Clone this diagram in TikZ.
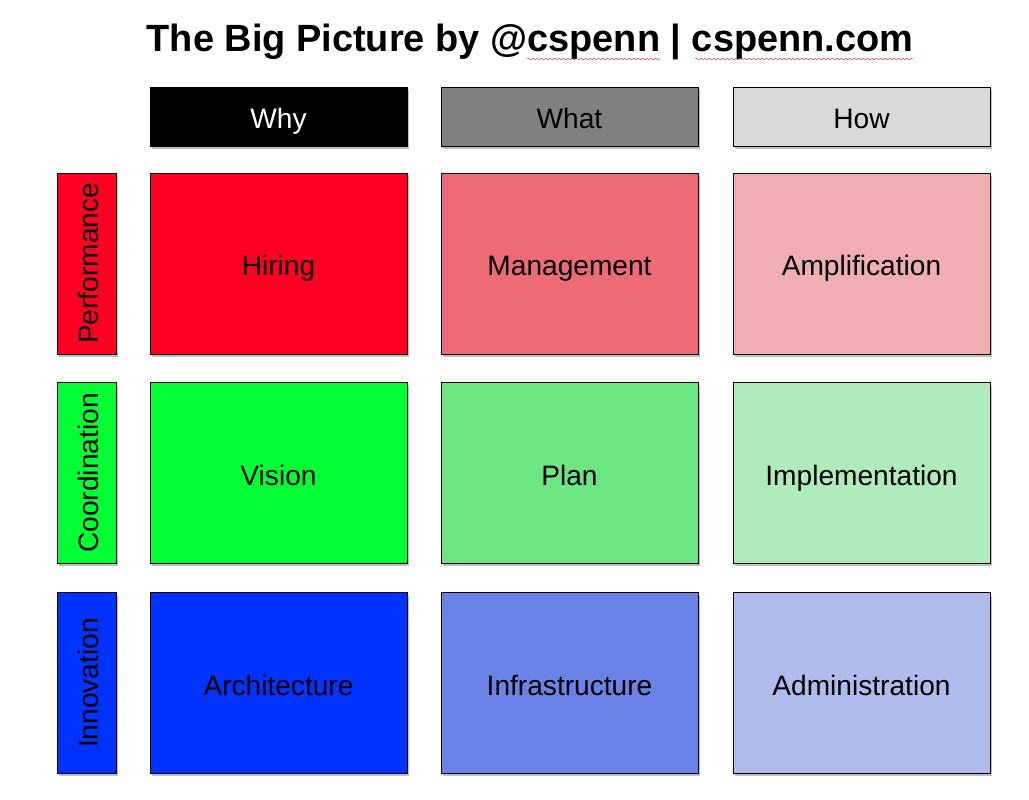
\documentclass[tikz,border=0pt]{standalone}
\usepackage{fontspec}
\setmainfont{Liberation Sans}
\usepackage{tikz}
\usetikzlibrary{shadows, positioning, decorations.pathmorphing}

\definecolor{perfA}{HTML}{FF0022}
\definecolor{perfB}{HTML}{EC6B74}
\definecolor{perfC}{HTML}{F0AEB3}
\definecolor{coordA}{HTML}{00FF33}
\definecolor{coordB}{HTML}{6BE682}
\definecolor{coordC}{HTML}{B0EBBB}
\definecolor{innoA}{HTML}{0033FF}
\definecolor{innoB}{HTML}{6B82E6}
\definecolor{innoC}{HTML}{B0BBEE}
\definecolor{midgray}{HTML}{808080}
\definecolor{lightgray}{HTML}{D9D9D9}

\begin{document}
\begin{tikzpicture}[
    x=0.02cm, y=-0.02cm,
    boxshadow/.style={drop shadow={shadow xshift=0.04cm, shadow yshift=-0.06cm, opacity=0.25, fill=black}},
    boxtext/.style={font=\fontsize{16}{19}\selectfont, text height=13.8pt, text depth=0pt},
    header/.style={rectangle, draw=black, thin, inner sep=0pt, minimum width=5.14cm, minimum height=1.18cm, boxshadow, boxtext},
    cell/.style={rectangle, draw=black, thin, inner sep=0pt, minimum width=5.14cm, minimum height=3.62cm, boxshadow, boxtext},
    rowlabel/.style={rectangle, draw=black, thin, inner sep=0pt, minimum width=1.18cm, minimum height=3.62cm, boxshadow},
    rowtext/.style={rotate=90, inner sep=0pt, boxtext},
    spell/.style={draw=red, very thin, decorate, decoration={snake, amplitude=0.4pt, segment length=2.5pt}}
]
\useasboundingbox (0,0) rectangle (1029,800);

% Title
\node[font=\fontsize{21.6}{26}\selectfont\bfseries] (title) at (530,42) {The Big Picture by @cspenn | cspenn.com};
\draw[spell] (527,59) -- (661,59);
\draw[spell] (695,59) -- (915,59);

% Column headers
\node[header, fill=black, text=white] (why) at (278.5,116.5) {Why};
\node[header, fill=midgray] (what) at (569.5,116.5) {What};
\node[header, fill=lightgray] (how) at (861.5,116.5) {How};

% Row labels (left side)
\node[rowlabel, fill=perfA] (perf) at (86.5,263.5) {};
\node[rowtext] at (perf.center) {Performance};
\node[rowlabel, fill=coordA] (coord) at (86.5,473) {};
\node[rowtext] at (coord.center) {Coordination};
\node[rowlabel, fill=innoA] (inno) at (86.5,683) {};
\node[rowtext] at (inno.center) {Innovation};

% Performance row
\node[cell, fill=perfA] (hiring) at (278.5,263.5) {Hiring};
\node[cell, fill=perfB] (management) at (569.5,263.5) {Management};
\node[cell, fill=perfC] (amplification) at (861.5,263.5) {Amplification};

% Coordination row
\node[cell, fill=coordA] (vision) at (278.5,473) {Vision};
\node[cell, fill=coordB] (plan) at (569.5,473) {Plan};
\node[cell, fill=coordC] (implementation) at (861.5,473) {Implementation};

% Innovation row
\node[cell, fill=innoA] (architecture) at (278.5,683) {Architecture};
\node[cell, fill=innoB] (infrastructure) at (569.5,683) {Infrastructure};
\node[cell, fill=innoC] (administration) at (861.5,683) {Administration};

\end{tikzpicture}
\end{document}
